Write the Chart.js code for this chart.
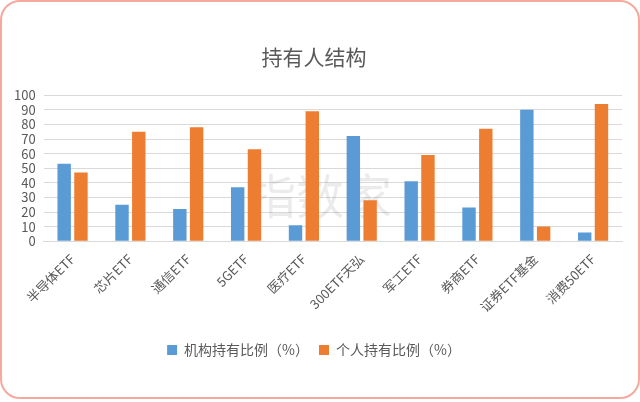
<!DOCTYPE html>
<html>
<head>
<meta charset="utf-8">
<script src="https://cdn.jsdelivr.net/npm/chart.js@4/dist/chart.umd.min.js"></script>
<style>
  html, body { margin: 0; padding: 0; background: #fff; }
  #wrap {
    position: absolute; left: 0; top: 0;
    width: 636px; height: 395px;
    border: 2px solid #f4a99c; border-radius: 20px;
    overflow: hidden; background: #fff;
  }
  canvas { display: block; }
</style>
</head>
<body>
<div id="wrap"><canvas id="c" width="636" height="395"></canvas></div>
<script>
const categories = ['半导体ETF', '芯片ETF', '通信ETF', '5GETF', '医疗ETF', '300ETF天弘', '军工ETF', '券商ETF', '证券ETF基金', '消费50ETF'];
const institutional = [53, 25, 22, 37, 11, 72, 41, 23, 90, 6];
const individual = [47, 75, 78, 63, 89, 28, 59, 77, 10, 94];
const seriesNames = ['机构持有比例（%）', '个人持有比例（%）'];

const FONT = "'Noto Sans CJK SC', 'Noto Sans', sans-serif";
const GREY = '#595959';

// faint watermark in the middle of the plot
const watermark = {
  id: 'watermark',
  beforeDatasetsDraw(chart) {
    const { ctx } = chart;
    ctx.save();
    ctx.font = `48px ${FONT}`;
    ctx.fillStyle = 'rgba(0,0,0,0.08)';
    ctx.textAlign = 'center';
    ctx.textBaseline = 'middle';
    ctx.fillText('指数家', 318, 194);
    ctx.restore();
  }
};

new Chart(document.getElementById('c'), {
  type: 'bar',
  data: {
    labels: categories,
    datasets: [
      { label: seriesNames[0], data: institutional, backgroundColor: '#5b9bd5' },
      { label: seriesNames[1], data: individual, backgroundColor: '#ed7d31' }
    ]
  },
  options: {
    responsive: false,
    animation: false,
    datasets: { bar: { categoryPercentage: 0.58, barPercentage: 0.8 } },
    layout: { padding: { left: 4, right: 16, top: 36, bottom: 30 } },
    plugins: {
      title: {
        display: true,
        text: '持有人结构',
        color: GREY,
        font: { family: FONT, size: 21, weight: 'normal' },
        padding: { top: 6, bottom: 26 }
      },
      legend: {
        position: 'bottom',
        labels: {
          color: GREY,
          font: { family: FONT, size: 14 },
          boxWidth: 10, boxHeight: 10,
          padding: 10
        }
      },
      tooltip: { enabled: false }
    },
    scales: {
      x: {
        grid: { display: false },
        border: { color: '#d9d9d9' },
        afterFit: s => { s.height += 16; },
        ticks: {
          color: GREY,
          font: { family: FONT, size: 13 },
          minRotation: 45, maxRotation: 45,
          padding: 2
        }
      },
      y: {
        min: 0, max: 100,
        grid: { color: '#d9d9d9', drawTicks: false },
        border: { display: false },
        ticks: {
          stepSize: 10,
          autoSkip: false,
          color: GREY,
          font: { family: FONT, size: 13, lineHeight: 1 },
          padding: 8
        }
      }
    }
  },
  plugins: [watermark]
});
</script>
</body>
</html>
